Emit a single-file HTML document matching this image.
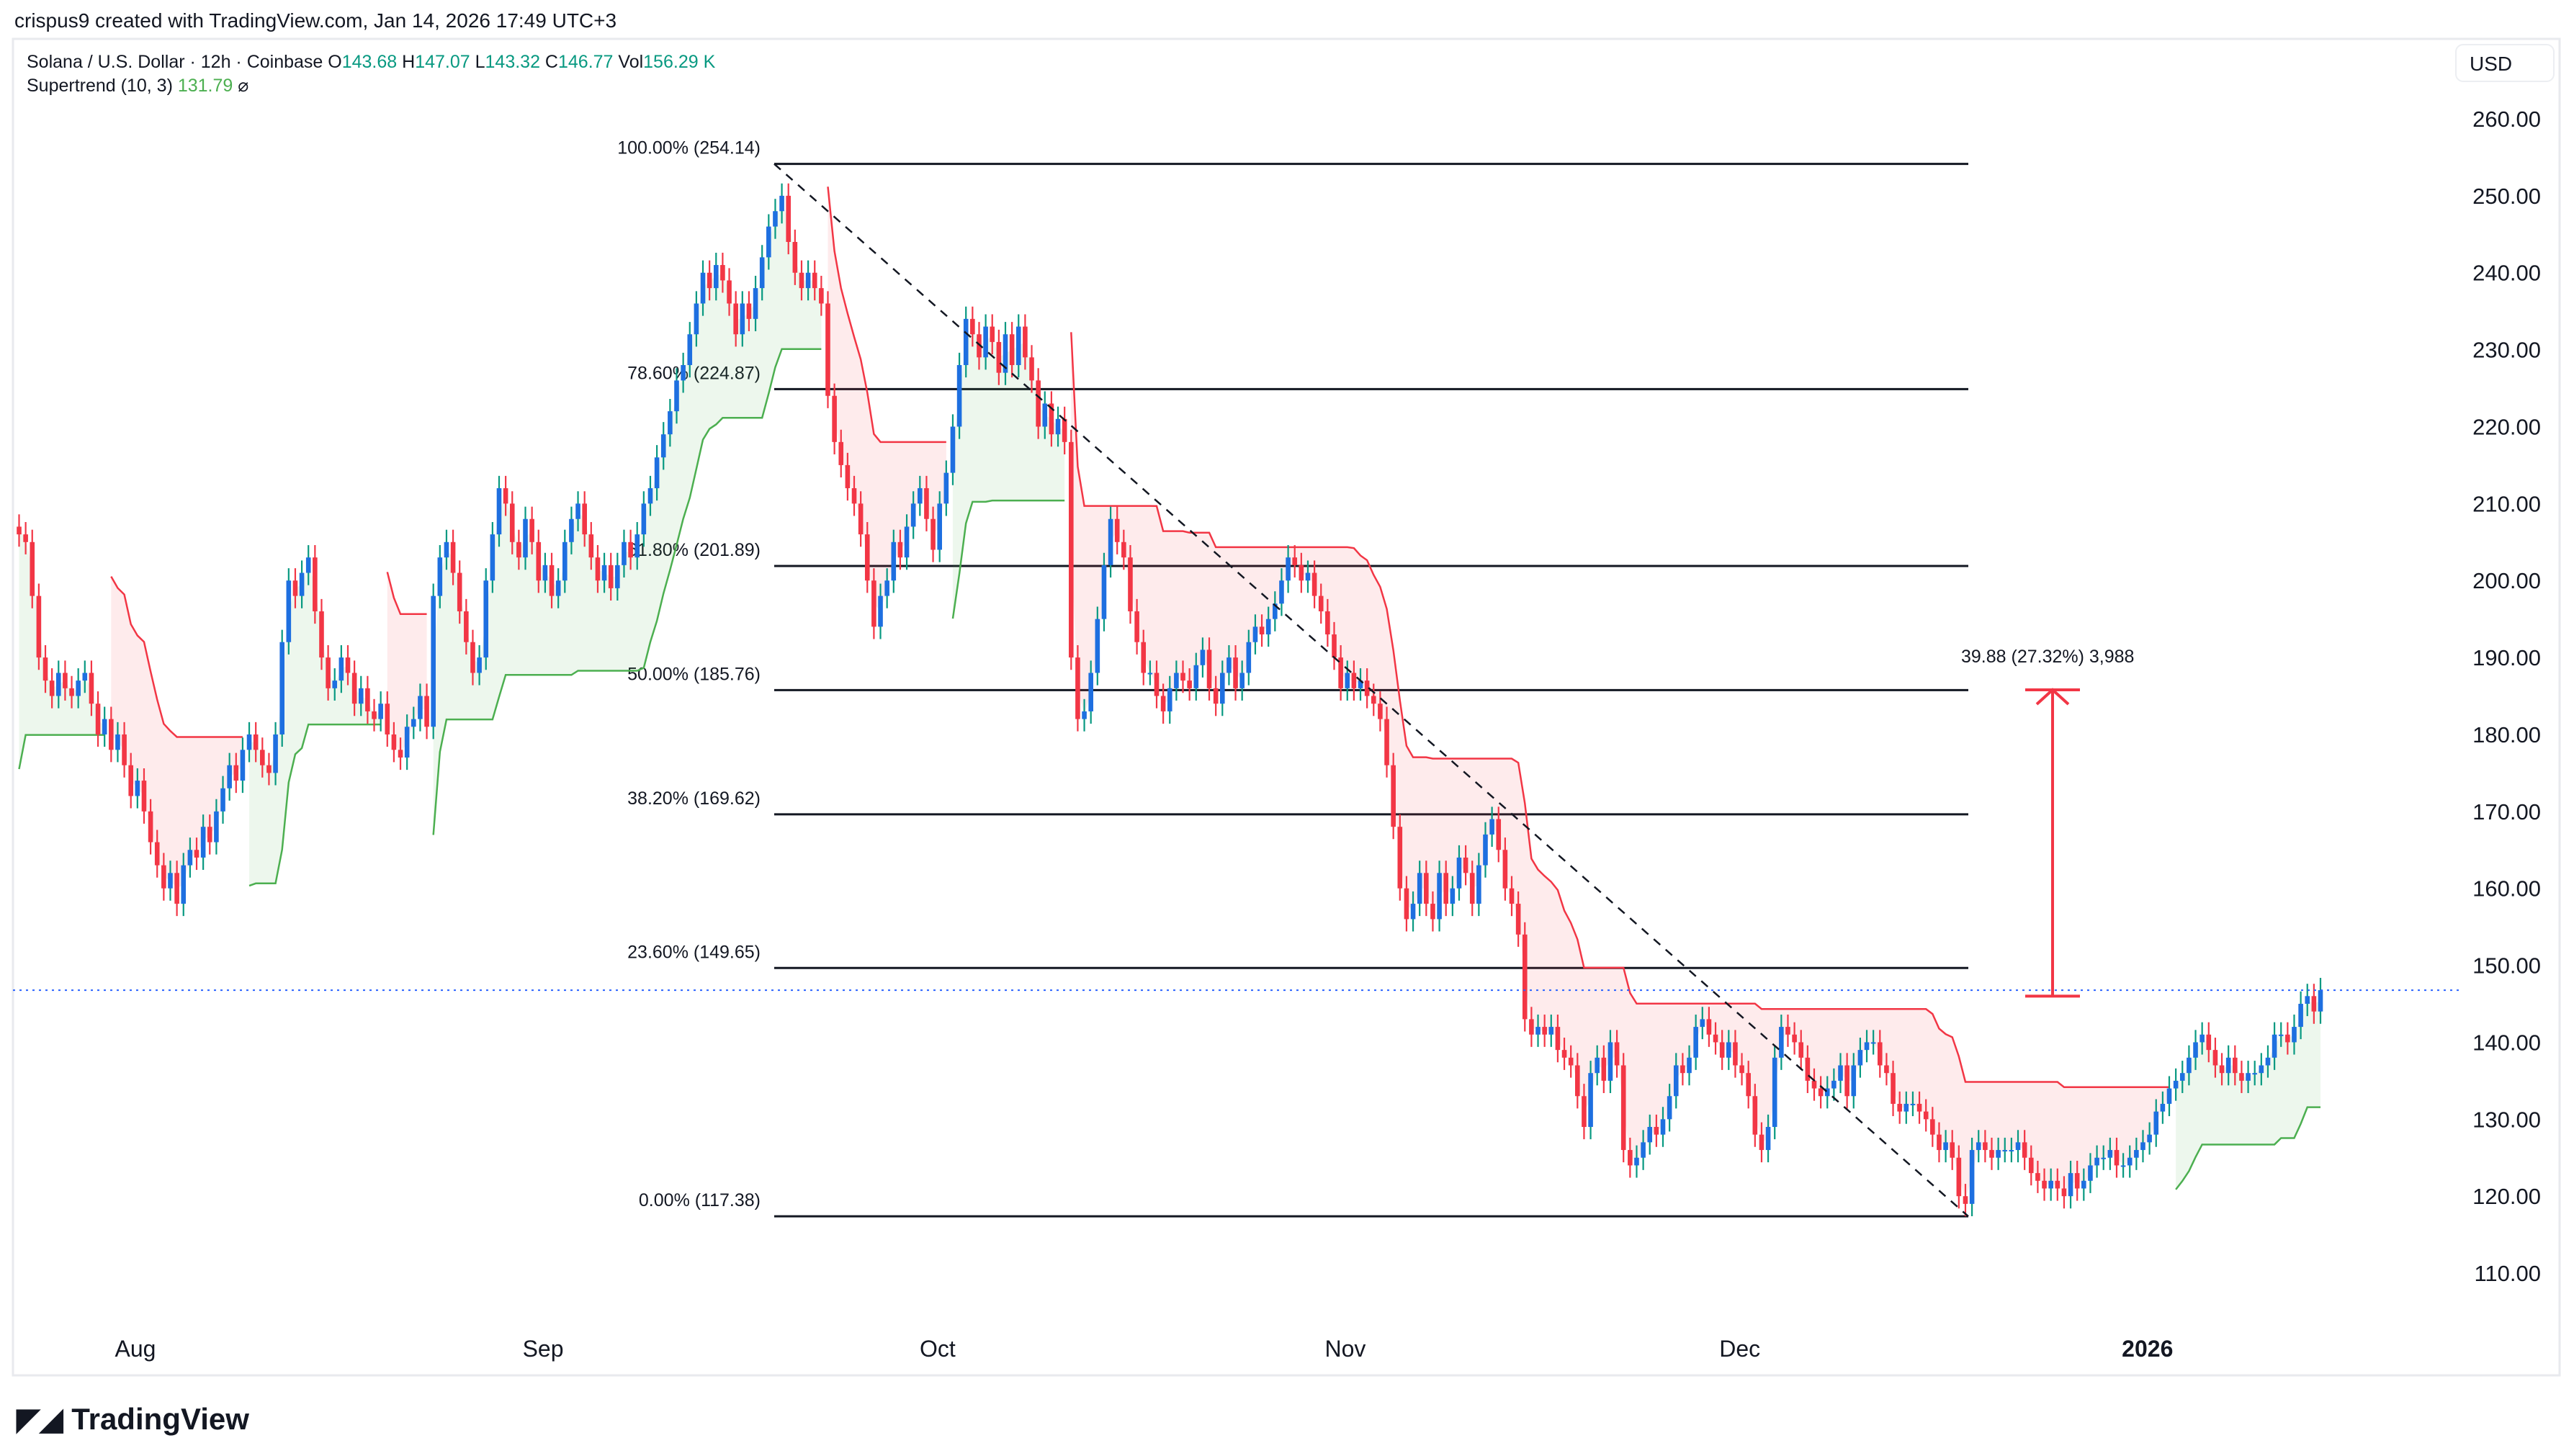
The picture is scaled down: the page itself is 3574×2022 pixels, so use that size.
<!DOCTYPE html>
<html><head><meta charset="utf-8">
<style>
html,body{margin:0;padding:0;background:#fff;}
body{width:3574px;height:2022px;overflow:hidden;position:relative;font-family:"Liberation Sans",sans-serif;color:#131722;}
svg{position:absolute;left:0;top:0;}
</style></head>
<body>
<svg id="chart" width="3574" height="2022" viewBox="0 0 3574 2022">
  <text x="20" y="38" font-size="28" fill="#131722">crispus9 created with TradingView.com, Jan 14, 2026 17:49 UTC+3</text>
  <rect x="18" y="54" width="3536" height="1856" fill="#fff" stroke="#e8eaee" stroke-width="3"/>
  <g id="marks"></g>
  <g font-size="25">
    <text x="37" y="94"><tspan fill="#131722">Solana / U.S. Dollar · 12h · Coinbase  O</tspan><tspan fill="#089981">143.68</tspan><tspan fill="#131722">  H</tspan><tspan fill="#089981">147.07</tspan><tspan fill="#131722">  L</tspan><tspan fill="#089981">143.32</tspan><tspan fill="#131722">  C</tspan><tspan fill="#089981">146.77</tspan><tspan fill="#131722">  Vol</tspan><tspan fill="#089981">156.29 K</tspan></text>
    <text x="37" y="127"><tspan fill="#131722">Supertrend (10, 3)  </tspan><tspan fill="#4caf50">131.79</tspan><tspan fill="#131722">  ⌀</tspan></text>
  </g>
  <rect x="3410" y="62" width="136" height="51" rx="10" fill="#fff" stroke="#eceef2" stroke-width="2"/>
  <text x="3429" y="98" font-size="28" fill="#131722">USD</text>
  <text x="23" y="1985" font-size="42" font-weight="bold" fill="#131722">◤◢ TradingView</text>
</svg>
<script>
// ---- data ----
const closes = [206,205,198,190,187,185,188,186,185,187,188,184,180,182,178,180,176,172,174,170,
166,163,160,162,158,163,165,164,168,166,170,173,176,174,178,180,178,176,175,180,192,200,198,201,203,196,190,186,187,190,188,184,186,183,182,184,180,178,177,181,182,185,181,198,203,205,201,196,192,188,190,200,206,212,210,205,203,208,205,200,202,198,
200,205,208,210,206,203,200,202,199,202,205,203,206,210,212,216,219,222,226,228,232,236,240,238,241,239,236,232,236,234,238,242,246,248,250,244,240,238,240,238,236,224,218,215,212,210,206,200,194,198,200,205,203,207,210,212,208,204,210,214,
220,228,234,232,229,233,231,227,232,228,233,229,226,220,223,219,221,218,190,182,183,188,195,202,208,205,203,196,192,188,188,185,183,186,188,187,186,189,191,186,184,188,190,186,188,192,194,193,195,197,200,203,202,200,201,198,196,193,190,186,188,186,
187,185,184,182,176,168,160,156,158,162,158,156,162,158,160,164,162,158,163,167,169,165,160,158,154,143,141,142,141,142,139,138,137,133,129,136,138,135,140,137,126,124,125,127,129,128,130,133,137,136,138,142,143,141,140,138,140,137,136,133,
128,126,129,138,142,141,140,138,135,134,133,134,135,137,133,137,139,140,140,137,136,132,131,132,132,131,130,128,126,127,125,120,119,126,127,126,125,126,126,126,127,125,123,122,121,122,121,120,123,121,122,124,125,125,126,124,124,125,126,127,128,131,
132,134,135,136,138,140,141,139,137,136,138,136,135,136,136,137,138,141,141,140,142,145,146,144,146.77];
const firstOpen = 207;
const atrSeed = 9;
const priceTicks = [260,250,240,230,220,210,200,190,180,170,160,150,140,130,120,110];
const monthLabels = ["Aug","Sep","Oct","Nov","Dec","2026"];
const monthDayOffsets = [0,31,61,92,122,153]; // days from Aug 1
const fibPcts = ["100.00%","78.60%","61.80%","50.00%","38.20%","23.60%","0.00%"];
const fibPrices = [254.14,224.87,201.89,185.76,169.62,149.65,117.38];
const lastPrice = 146.77;
const measureFrom = 146.0, measureTo = 185.8;

// ---- axes ----
const y = p => 165 + (260 - p) * 10.687;
const STEP = 9.13, LASTX = 3222, N = closes.length;
const x = i => LASTX - (N - 1 - i) * STEP;
const xDay = d => 188 + d * 18.26;

const NS = "http://www.w3.org/2000/svg";
const g = document.getElementById('marks');
function mk(tag, attrs, parent) {
  const e = document.createElementNS(NS, tag);
  for (const k in attrs) e.setAttribute(k, attrs[k]);
  (parent || g).appendChild(e);
  return e;
}

// OHLC
const opens = closes.map((c, i) => i === 0 ? firstOpen : closes[i - 1]);
const highs = closes.map((c, i) => Math.max(c, opens[i]) + 1.6);
const lows = closes.map((c, i) => Math.min(c, opens[i]) - 1.6);

// Supertrend (10,3)
const st = [], dir = [];
let atr = 0, fu = 0, fl = 0;
for (let i = 0; i < N; i++) {
  const tr = i === 0 ? highs[i] - lows[i] : Math.max(highs[i] - lows[i], Math.abs(highs[i] - closes[i - 1]), Math.abs(lows[i] - closes[i - 1]));
  atr = i === 0 ? atrSeed : (atr * 9 + tr) / 10;
  const hl2 = (highs[i] + lows[i]) / 2;
  let bu = hl2 + 3 * atr, bl = hl2 - 3 * atr;
  if (i > 0) {
    fu = (bu < fu || closes[i - 1] > fu) ? bu : fu;
    fl = (bl > fl || closes[i - 1] < fl) ? bl : fl;
  } else { fu = bu; fl = bl - 4; }
  let d;
  if (i === 0) d = -1;
  else if (dir[i - 1] === -1) d = closes[i] < fl ? 1 : -1;
  else d = closes[i] > fu ? -1 : 1;
  dir.push(d); st.push(d === -1 ? fl : fu);
}

// fib lines
const fibX1 = 1075, fibX2 = 2733;
fibPrices.forEach((p, k) => {
  const ln = mk('line', {x1: fibX1, x2: fibX2, y1: y(p), y2: y(p), stroke: '#131722', 'stroke-width': 3});
  
  
  const t = mk('text', {x: 1056, y: y(p) - 14, 'font-size': 25, 'text-anchor': 'end', fill: '#131722'});
  t.textContent = fibPcts[k] + ' (' + p.toFixed(2) + ')';
  
  
});

// Supertrend fills & lines
let seg = [];
function flush() {
  if (seg.length < 1) { seg = []; return; }
  const d = dir[seg[0]];
  const col = d === -1 ? '#4caf50' : '#f23645';
  const fillc = d === -1 ? 'rgba(76,175,80,0.10)' : 'rgba(242,54,69,0.10)';
  let top = seg.map(i => x(i) + ',' + y(st[i]));
  let bot = seg.slice().reverse().map(i => x(i) + ',' + y((opens[i] + closes[i]) / 2));
  const poly = mk('polygon', {points: top.concat(bot).join(' '), fill: fillc, stroke: 'none'});
  
  
  const pl = mk('polyline', {points: top.join(' '), fill: 'none', stroke: col, 'stroke-width': 2.5});
  
  
  seg = [];
}
for (let i = 0; i < N; i++) {
  if (seg.length && dir[i] !== dir[seg[seg.length - 1]]) flush();
  seg.push(i);
}
flush();

// Candles
for (let i = 0; i < N; i++) {
  const up = closes[i] >= opens[i];
  const cx = x(i);
  const wick = mk('line', {x1: cx, x2: cx, y1: y(highs[i]), y2: y(lows[i]), stroke: up ? '#089981' : '#f23645', 'stroke-width': 2.2});
  
  
  const t = y(Math.max(opens[i], closes[i])), b = y(Math.min(opens[i], closes[i]));
  const body = mk('rect', {x: cx - 3.3, y: t, width: 6.6, height: Math.max(2, b - t), fill: up ? '#1e6fe0' : '#f23645'});
  
  
}

// diagonal trend line
const diag = mk('line', {x1: fibX1, y1: y(fibPrices[0]), x2: fibX2, y2: y(fibPrices[6]), stroke: '#131722', 'stroke-width': 2.5, 'stroke-dasharray': '12 10'});



// last price line
const lp = mk('line', {x1: 18, x2: 3415, y1: y(lastPrice), y2: y(lastPrice), stroke: '#2962ff', 'stroke-width': 2, 'stroke-dasharray': '3 6'});



// measure arrow
const ax = 2850, ay1 = y(measureFrom), ay2 = y(measureTo);
const mg = mk('g', {stroke: '#f23645', 'stroke-width': 4, fill: 'none'});


mk('line', {x1: ax, x2: ax, y1: ay1, y2: ay2}, mg);
mk('line', {x1: ax - 38, x2: ax + 38, y1: ay1, y2: ay1}, mg);
mk('line', {x1: ax - 38, x2: ax + 38, y1: ay2, y2: ay2}, mg);
mk('polyline', {points: (ax - 22) + ',' + (ay2 + 20) + ' ' + ax + ',' + ay2 + ' ' + (ax + 22) + ',' + (ay2 + 20)}, mg);
const mt = mk('text', {x: 2723, y: ay2 - 38, 'font-size': 25, fill: '#131722'});
mt.textContent = '39.88 (27.32%) 3,988';



// price axis
priceTicks.forEach(p => {
  const t = mk('text', {x: 3528, y: y(p) + 11, 'font-size': 31, 'text-anchor': 'end', fill: '#131722'});
  t.textContent = p.toFixed(2);
  
  
});

// time axis
monthLabels.forEach((m, k) => {
  const t = mk('text', {x: xDay(monthDayOffsets[k]), y: 1884, 'font-size': 32, 'text-anchor': 'middle', fill: '#131722', 'font-weight': m === '2026' ? 'bold' : 'normal'});
  t.textContent = m;
  
  
});
</script>
</body></html>
